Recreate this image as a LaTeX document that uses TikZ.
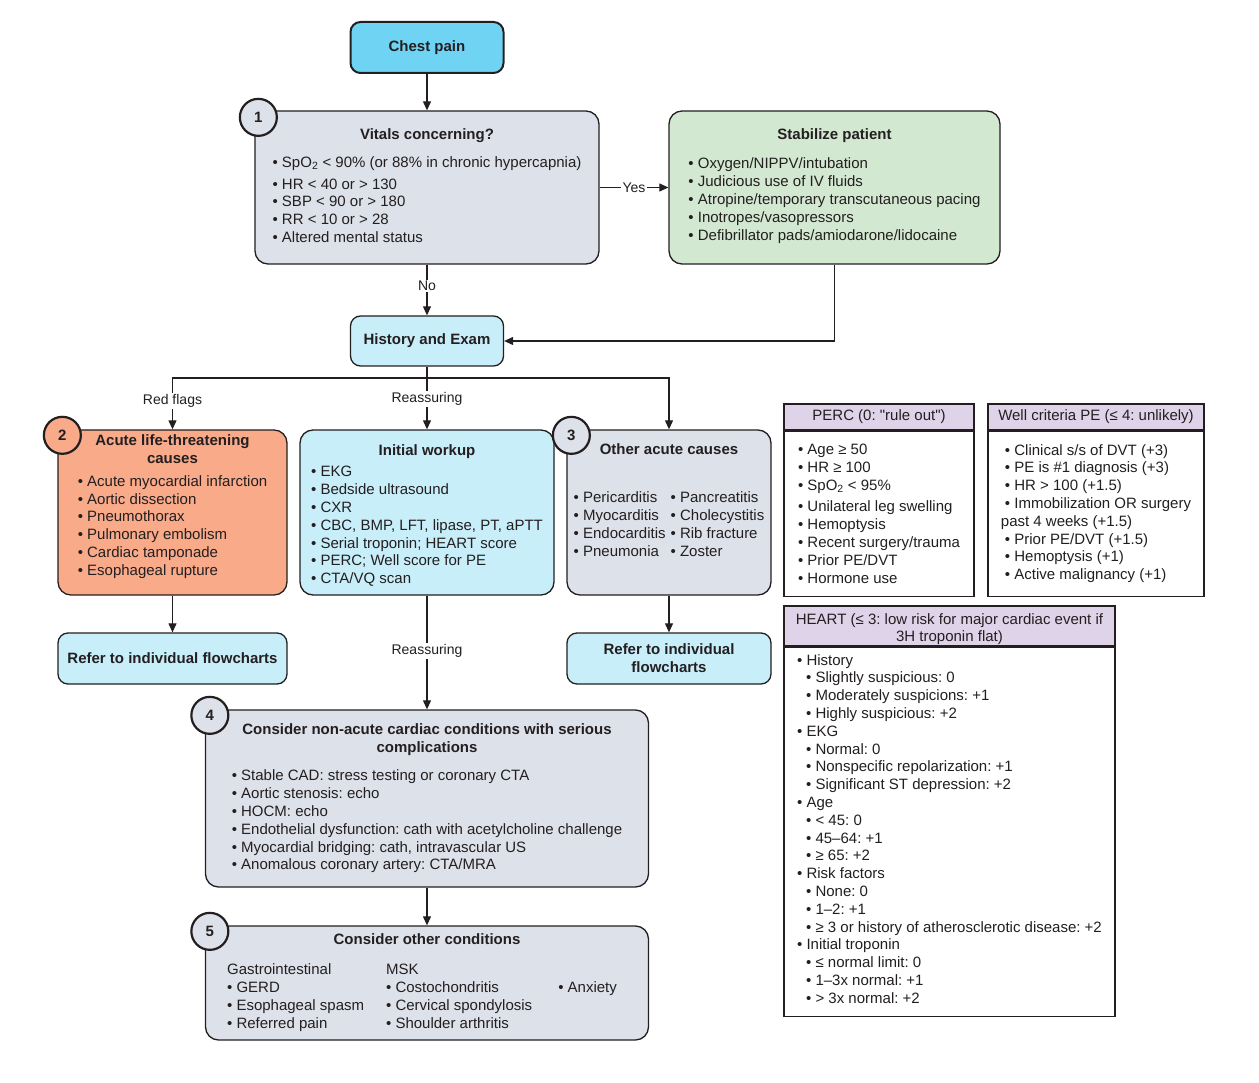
\documentclass[tikz,border=0pt]{standalone}
\usepackage{fontspec}
\setmainfont{Liberation Sans}
\usetikzlibrary{arrows.meta,positioning}

\definecolor{cpcyan}{HTML}{6FD4F4}
\definecolor{ltcyan}{HTML}{C8EEFA}
\definecolor{slate}{HTML}{DDE1E9}
\definecolor{sage}{HTML}{D3E8D1}
\definecolor{salmon}{HTML}{F8AA89}
\definecolor{lilac}{HTML}{DED3E8}
\definecolor{ink}{HTML}{231F20}

\newcommand{\bul}{\textbullet\ }
\newcommand{\hd}[2]{\multicolumn{#1}{@{}c@{}}{\textbf{#2}}}
\newcommand{\sub}{\hspace*{9pt}\textbullet\ }
\frenchspacing

\begin{document}
\begin{tikzpicture}[x=1pt,y=-1pt,
  every node/.style={font=\fontsize{15}{17.8}\selectfont, text=ink},
  box/.style={draw=ink, line width=1.3pt, rounded corners=13pt, align=left},
  num/.style={draw=ink, circle, line width=2.2pt, minimum size=37pt, inner sep=0pt,
    font=\fontsize{15}{17.8}\selectfont\bfseries},
  head/.style={draw=ink, line width=1.1pt, fill=lilac, align=center},
  tab/.style={draw=ink, line width=1.1pt, fill=white, align=left},
  arr/.style={draw=ink, line width=1.1pt, -{Triangle[length=9pt,width=8pt]}},
  lbl/.style={fill=white, inner sep=1.5pt, font=\fontsize{14}{16}\selectfont}]
  \useasboundingbox (0,0) rectangle (1259,1083);

  % main column
  \node[box, fill=cpcyan, line width=2pt, rounded corners=10pt, minimum width=153pt,
    minimum height=51pt] (chest) at (427,47.5) {\textbf{Chest pain}};
  \node[box, fill=slate, minimum width=344pt, minimum height=153pt] (vitals) at (427,187.5)
    {\begin{tabular}{@{}l@{}}
       \hd{1}{Vitals concerning?}\\[10pt]
       \bul SpO\textsubscript{2} < 90\% (or 88\% in chronic hypercapnia)\\[4pt]
       \bul HR < 40 or > 130\\
       \bul SBP < 90 or > 180\\
       \bul RR < 10 or > 28\\
       \bul Altered mental status
     \end{tabular}};
  \node[box, fill=sage, minimum width=331pt, minimum height=153pt] (stab) at (834.5,187.5)
    {\begin{tabular}{@{}l@{}}
       \hd{1}{Stabilize patient}\\[12pt]
       \bul Oxygen/NIPPV/intubation\\
       \bul Judicious use of IV fluids\\
       \bul Atropine/temporary transcutaneous pacing\\
       \bul Inotropes/vasopressors\\
       \bul Defibrillator pads/amiodarone/lidocaine\\[3pt]
     \end{tabular}};
  \node[box, fill=ltcyan, rounded corners=10pt, minimum width=153pt, minimum height=50pt]
    (hist) at (427,341) {\textbf{History and Exam}};

  % second row
  \node[box, fill=salmon, minimum width=229pt, minimum height=165pt] (acute) at (172.5,512.5)
    {\begin{tabular}{@{}l@{}}
       \hd{1}{Acute life-threatening}\\
       \hd{1}{causes}\\[5pt]
       \bul Acute myocardial infarction\\
       \bul Aortic dissection\\
       \bul Pneumothorax\\
       \bul Pulmonary embolism\\
       \bul Cardiac tamponade\\
       \bul Esophageal rupture\\[11pt]
     \end{tabular}};
  \node[box, fill=ltcyan, minimum width=254pt, minimum height=165pt] (work) at (427,512.5)
    {\begin{tabular}{@{}l@{}}
       \hd{1}{\rule{0pt}{19pt}Initial workup}\\[4pt]
       \bul EKG\\
       \bul Bedside ultrasound\\
       \bul CXR\\
       \bul CBC, BMP, LFT, lipase, PT, aPTT\\
       \bul Serial troponin; HEART score\\
       \bul PERC; Well score for PE\\
       \bul CTA/VQ scan
     \end{tabular}};
  \node[box, fill=slate, minimum width=204pt, minimum height=165pt] (other) at (669,512.5)
    {\begin{tabular}{@{}l@{\hspace{5pt}}l@{}}
       \hd{2}{Other acute causes}\\[30pt]
       \bul Pericarditis & \bul Pancreatitis\\
       \bul Myocarditis & \bul Cholecystitis\\
       \bul Endocarditis & \bul Rib fracture\\
       \bul Pneumonia & \bul Zoster\\[21pt]
     \end{tabular}};
  \node[box, fill=ltcyan, rounded corners=10pt, minimum width=229pt, minimum height=51pt]
    (refl) at (172.5,658.5) {\textbf{Refer to individual flowcharts}};
  \node[box, fill=ltcyan, rounded corners=10pt, align=center, minimum width=204pt,
    minimum height=51pt] (refr) at (669,658.5) {\textbf{Refer to individual}\\ \textbf{flowcharts}};

  % lower column
  \node[box, fill=slate, minimum width=443pt, minimum height=177pt] (cardiac) at (427,798.5)
    {\begin{tabular}{@{}l@{}}
       \hd{1}{Consider non-acute cardiac conditions with serious}\\
       \hd{1}{complications}\\[11pt]
       \bul Stable CAD: stress testing or coronary CTA\\
       \bul Aortic stenosis: echo\\
       \bul HOCM: echo\\
       \bul Endothelial dysfunction: cath with acetylcholine challenge\\
       \bul Myocardial bridging: cath, intravascular US\\
       \bul Anomalous coronary artery: CTA/MRA
     \end{tabular}};
  \node[box, fill=slate, minimum width=443pt, minimum height=114pt] (others) at (427,983)
    {\begin{tabular}{@{}l@{\hspace{22pt}}l@{\hspace{26pt}}l@{\hspace{10pt}}}
       \hd{3}{Consider other conditions}\\[12pt]
       Gastrointestinal & MSK & \\
       \bul GERD & \bul Costochondritis & \bul Anxiety\\
       \bul Esophageal spasm & \bul Cervical spondylosis & \\
       \bul Referred pain & \bul Shoulder arthritis &
     \end{tabular}};

  % step numbers
  \node[num, fill=slate] (n1) at ([shift={(4,7)}]vitals.north west) {1};
  \node[num, fill=salmon] (n2) at ([shift={(5,6)}]acute.north west) {2};
  \node[num, fill=slate] (n3) at ([shift={(5,6)}]other.north west) {3};
  \node[num, fill=slate] (n4) at ([shift={(5,6)}]cardiac.north west) {4};
  \node[num, fill=slate] (n5) at ([shift={(5,6)}]others.north west) {5};

  % score tables
  \node[head, minimum width=190pt, minimum height=26pt] (perchd) at (879,417)
    {PERC (0: \textquotedbl rule out\textquotedbl)};
  \node[tab, minimum width=190pt, minimum height=165pt, below=0pt of perchd] (perc)
    {\bul Age ≥ 50\\
     \bul HR ≥ 100\\
     \bul SpO\textsubscript{2} < 95\%\\[4pt]
     \bul Unilateral leg swelling\\
     \bul Hemoptysis\\
     \bul Recent surgery/trauma\\
     \bul Prior PE/DVT\\
     \bul Hormone use};
  \node[head, minimum width=216pt, minimum height=26pt] (wellshd) at (1096,417)
    {Well criteria PE (≤ 4: unlikely)};
  \node[tab, minimum width=216pt, minimum height=165pt, below=0pt of wellshd] (wells)
    {\hspace*{4pt}\bul Clinical s/s of DVT (+3)\\
     \hspace*{4pt}\bul PE is \#1 diagnosis (+3)\\
     \hspace*{4pt}\bul HR > 100 (+1.5)\\
     \hspace*{4pt}\bul Immobilization OR surgery\\
     past 4 weeks (+1.5)\\
     \hspace*{4pt}\bul Prior PE/DVT (+1.5)\\
     \hspace*{4pt}\bul Hemoptysis (+1)\\
     \hspace*{4pt}\bul Active malignancy (+1)};
  \node[head, inner ysep=0pt, minimum width=331pt, minimum height=40pt] (hearthd) at (949.5,626)
    {\rule{0pt}{17pt}HEART (≤ 3: low risk for major cardiac event if\\ 3H troponin flat)};
  \node[tab, inner ysep=0pt, minimum width=331pt, minimum height=369pt, below=0pt of hearthd] (heart)
    {\begin{tabular}{@{}l@{}}
       \bul History\\
       \sub Slightly suspicious: 0\\
       \sub Moderately suspicions: +1\\
       \sub Highly suspicious: +2\\
       \bul EKG\\
       \sub Normal: 0\\
       \sub Nonspecific repolarization: +1\\
       \sub Significant ST depression: +2\\
       \bul Age\\
       \sub < 45: 0\\
       \sub 45–64: +1\\
       \sub ≥ 65: +2\\
       \bul Risk factors\\
       \sub None: 0\\
       \sub 1–2: +1\\
       \sub ≥ 3 or history of atherosclerotic disease: +2\\
       \bul Initial troponin\\
       \sub ≤ normal limit: 0\\
       \sub 1–3x normal: +1\\
       \sub > 3x normal: +2\\[2pt]
     \end{tabular}};

  % connectors
  \coordinate (split) at (427,378);
  \draw[arr] (chest) -- (vitals);
  \draw[arr] (vitals) -- node[lbl]{Yes} (stab);
  \draw[arr] (vitals) -- node[lbl, pos=0.42]{No} (hist);
  \draw[arr] (stab.south) |- (hist.east);
  \draw[draw=ink, line width=1.1pt] (hist) -- (split);
  \draw[arr] (split) -| node[lbl, pos=0.72]{Red flags} (acute.north);
  \draw[arr] (split) -- node[lbl, pos=0.4]{Reassuring} (work);
  \draw[arr] (split) -| (other.north);
  \draw[arr] (acute) -- (refl);
  \draw[arr] (other) -- (refr);
  \draw[arr] (work) -- node[lbl, pos=0.49]{Reassuring} (cardiac);
  \draw[arr] (cardiac) -- (others);
\end{tikzpicture}
\end{document}
